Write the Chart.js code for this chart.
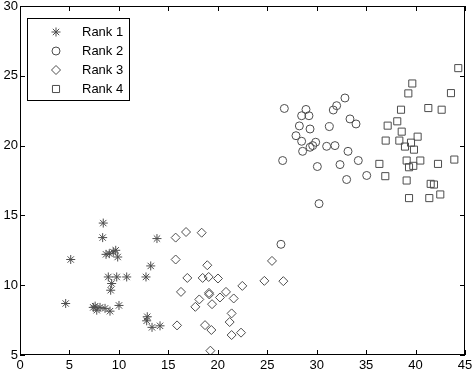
<!DOCTYPE html>
<html>
<head>
<meta charset="utf-8">
<script src="https://cdn.jsdelivr.net/npm/chart.js@4/dist/chart.umd.min.js"></script>
<style>
  html, body { margin: 0; padding: 0; background: #fff; }
  canvas { display: block; }
</style>
</head>
<body>
<canvas id="scatter" width="474" height="374"></canvas>
<script>
// ===== DATA =====
const seriesLabels = ['Rank 1', 'Rank 2', 'Rank 3', 'Rank 4'];
const seriesStyles = ['star', 'circle', 'rectRot', 'rect'];

const rank1X = [8.42, 8.36, 5.13, 8.70, 9.03, 9.43, 9.68, 9.88, 13.85, 13.22, 8.93, 9.78, 10.79, 9.27, 9.17, 12.74, 4.62, 7.41, 7.76, 8.09, 8.60, 9.10, 10.01, 12.87, 12.81, 13.35, 14.16, 7.60];
const rank1Y = [14.45, 13.41, 11.84, 12.21, 12.26, 12.38, 12.50, 12.02, 13.34, 11.38, 10.59, 10.59, 10.59, 10.12, 9.64, 10.59, 8.69, 8.41, 8.21, 8.41, 8.34, 8.14, 8.55, 7.74, 7.45, 6.98, 7.09, 8.50];

const rank2X = [26.73, 28.92, 28.48, 29.22, 28.25, 29.33, 27.91, 28.48, 28.58, 29.33, 29.60, 29.90, 31.01, 31.85, 31.28, 31.68, 32.02, 32.86, 33.37, 33.98, 33.17, 34.21, 32.36, 30.07, 26.56, 33.03, 35.06, 30.24, 26.39];
const rank2Y = [22.66, 22.59, 22.14, 22.14, 21.41, 21.19, 20.71, 20.31, 19.59, 19.88, 20.00, 20.24, 19.95, 20.00, 21.36, 22.55, 22.86, 23.41, 21.91, 21.55, 19.59, 18.93, 18.64, 18.50, 18.93, 17.57, 17.86, 15.84, 12.93];

const rank3X = [15.74, 16.79, 18.37, 15.74, 18.94, 16.92, 18.47, 19.08, 20.02, 16.28, 19.11, 19.14, 20.83, 22.48, 18.13, 20.22, 21.61, 17.73, 19.42, 21.40, 21.20, 15.88, 18.71, 19.35, 21.40, 22.35, 19.25, 24.71, 25.48, 26.63];
const rank3Y = [13.41, 13.81, 13.76, 11.84, 11.43, 10.52, 10.52, 10.59, 10.48, 9.52, 9.45, 9.34, 9.52, 9.95, 8.98, 9.12, 9.05, 8.45, 8.64, 7.98, 7.36, 7.12, 7.14, 6.79, 6.43, 6.60, 5.31, 10.31, 11.74, 10.29];

const rank4X = [44.32, 39.67, 39.27, 43.58, 38.53, 41.29, 42.64, 38.15, 37.18, 38.60, 36.98, 38.36, 38.93, 39.54, 40.21, 39.84, 36.34, 39.10, 40.48, 39.34, 39.77, 42.27, 43.92, 36.94, 39.10, 41.53, 41.86, 39.34, 41.39, 42.50];
const rank4Y = [25.55, 24.45, 23.74, 23.76, 22.57, 22.69, 22.57, 21.74, 21.43, 21.00, 20.36, 20.36, 19.93, 20.21, 20.64, 19.71, 18.69, 18.93, 18.93, 18.45, 18.55, 18.69, 19.00, 17.81, 17.50, 17.26, 17.21, 16.24, 16.24, 16.50];

const xRange = [0, 45];
const yRange = [5, 30];
const tickStep = 5;

// ===== HELPERS =====
const MARK = '#4d4d4d';
const FONT = '"Liberation Sans", Arial, Helvetica, sans-serif';
const radii = { star: 4.5, circle: 4, rectRot: 4.5, rect: 5 };

const toPoints = (xs, ys) => xs.map((x, i) => ({ x: x, y: ys[i] }));
const seriesPoints = [
    toPoints(rank1X, rank1Y),
    toPoints(rank2X, rank2Y),
    toPoints(rank3X, rank3Y),
    toPoints(rank4X, rank4Y)
];

// ===== FRAME + INWARD TICKS =====
const framePlugin = {
    id: 'frame',
    afterDraw(chart) {
        const ctx = chart.ctx;
        const a = chart.chartArea;
        const xs = chart.scales.x, ys = chart.scales.y;
        ctx.save();
        ctx.strokeStyle = '#000';
        ctx.lineWidth = 1;
        ctx.strokeRect(Math.round(a.left) + 0.5, Math.round(a.top) + 0.5,
            Math.round(a.right - a.left) - 1, Math.round(a.bottom - a.top) - 1);
        ctx.beginPath();
        xs.ticks.forEach(t => {
            const px = Math.round(xs.getPixelForValue(t.value)) + 0.5;
            ctx.moveTo(px, a.bottom); ctx.lineTo(px, a.bottom - 5);
            ctx.moveTo(px, a.top); ctx.lineTo(px, a.top + 5);
        });
        ys.ticks.forEach(t => {
            const py = Math.round(ys.getPixelForValue(t.value)) + 0.5;
            ctx.moveTo(a.left, py); ctx.lineTo(a.left + 5, py);
            ctx.moveTo(a.right, py); ctx.lineTo(a.right - 5, py);
        });
        ctx.stroke();
        ctx.restore();
    }
};

// ===== LEGEND BOX =====
const legendPlugin = {
    id: 'boxLegend',
    afterDraw(chart) {
        const ctx = chart.ctx;
        const a = chart.chartArea;
        const bx = a.left + 7.5, by = a.top + 12.5, bw = 102, bh = 82;
        ctx.save();
        ctx.fillStyle = '#fff';
        ctx.fillRect(bx, by, bw, bh);
        ctx.strokeStyle = '#000';
        ctx.lineWidth = 1;
        ctx.strokeRect(bx, by, bw, bh);
        ctx.font = '13px ' + FONT;
        ctx.textBaseline = 'middle';
        ctx.textAlign = 'left';
        chart.data.datasets.forEach((ds, i) => {
            const ry = by + 13.5 + i * 19;
            ctx.fillStyle = 'rgba(0,0,0,0)';
            ctx.strokeStyle = MARK;
            ctx.lineWidth = 1;
            Chart.helpers.drawPoint(ctx, {
                pointStyle: ds.pointStyle,
                radius: ds.pointRadius,
                borderWidth: 1,
                rotation: 0
            }, bx + 28.5, ry);
            ctx.fillStyle = '#000';
            ctx.fillText(ds.label, bx + 54.5, ry + 0.5);
        });
        ctx.restore();
    }
};

// ===== CHART =====
new Chart(document.getElementById('scatter'), {
    type: 'scatter',
    data: {
        datasets: seriesLabels.map((label, i) => ({
            label: label,
            data: seriesPoints[i],
            pointStyle: seriesStyles[i],
            pointRadius: radii[seriesStyles[i]],
            pointHoverRadius: radii[seriesStyles[i]],
            borderColor: MARK,
            backgroundColor: 'rgba(0,0,0,0)',
            pointBorderWidth: 1
        }))
    },
    options: {
        responsive: false,
        animation: false,
        layout: { padding: { top: 5, right: 9, left: 0, bottom: 0 } },
        plugins: {
            legend: { display: false },
            tooltip: { enabled: false }
        },
        scales: {
            x: {
                type: 'linear',
                min: xRange[0],
                max: xRange[1],
                grid: { display: false, drawTicks: false },
                border: { display: false },
                ticks: {
                    stepSize: tickStep,
                    padding: 3,
                    color: '#000',
                    font: { size: 13, family: FONT },
                    maxRotation: 0
                },
                afterFit(s) {
                    s.height = 19;
                    s.paddingLeft = 0;
                    s.paddingRight = 0;
                }
            },
            y: {
                type: 'linear',
                min: yRange[0],
                max: yRange[1],
                grid: { display: false, drawTicks: false },
                border: { display: false },
                ticks: {
                    stepSize: tickStep,
                    padding: 2,
                    color: '#000',
                    font: { size: 13, family: FONT }
                },
                afterFit(s) {
                    s.width = 20;
                    s.paddingTop = 0;
                    s.paddingBottom = 0;
                }
            }
        }
    },
    plugins: [framePlugin, legendPlugin]
});
</script>
</body>
</html>
